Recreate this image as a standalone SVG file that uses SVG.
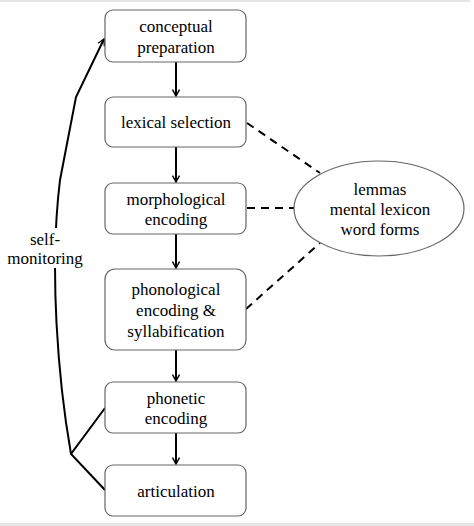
<svg xmlns="http://www.w3.org/2000/svg" width="474" height="526" viewBox="0 0 474 526">
<defs>
<style>
.box{fill:#fff;stroke:#666;stroke-width:1.2}
.t{font-family:'Liberation Serif',serif;font-size:17px;fill:#000;text-anchor:middle}
.arr{stroke:#000;stroke-width:2;fill:none;marker-end:url(#ah)}
.dash{stroke:#000;stroke-width:2;fill:none;stroke-dasharray:8,6}
.sm{stroke:#000;stroke-width:2;fill:none}
</style>
<marker id="ah" viewBox="0 0 12 12" refX="11" refY="6" markerWidth="7" markerHeight="7" markerUnits="userSpaceOnUse" orient="auto" overflow="visible">
<path d="M0,0 L11,6 L0,12" fill="none" stroke="#000" stroke-width="2.4"/>
</marker>
</defs>
<rect x="0" y="0" width="474" height="526" fill="#fff"/>
<rect x="0" y="0" width="470" height="2" fill="#e6e6e6"/>
<rect x="0" y="523" width="474" height="3" fill="#e6e6e6"/>
<g id="connectors">
<path class="arr" d="M176,62 V96"/>
<path class="arr" d="M176,147 V182"/>
<path class="arr" d="M176,234 V268"/>
<path class="arr" d="M176,350 V381"/>
<path class="arr" d="M176,433 V464"/>
<path class="dash" d="M247,123 L320,173"/>
<path class="dash" d="M247,208 L294,208"/>
<path class="dash" d="M246,309 L320,243"/>
<path class="sm" d="M105,408 L71,454 L105,490"/>
<path class="sm" d="M71,454 C58,380 49,270 60,180 L76,97 L104,39" marker-end="url(#ah)"/>
</g>
<g id="self-monitoring">
<rect x="6" y="228" width="78" height="40" fill="#fff"/>
<text class="t" x="45" y="245" font-family="Liberation Serif, serif">self-</text>
<text class="t" x="45" y="264" font-family="Liberation Serif, serif">monitoring</text>
</g>
<g id="conceptual">
<rect class="box" x="105" y="10" width="141" height="52" rx="8"/>
<text class="t" x="176" y="32">conceptual</text>
<text class="t" x="176" y="53">preparation</text>
</g>
<g id="lexical">
<rect class="box" x="105" y="97" width="141" height="50" rx="8"/>
<text class="t" x="176" y="128">lexical selection</text>
</g>
<g id="morphological">
<rect class="box" x="105" y="183" width="141" height="51" rx="8"/>
<text class="t" x="176" y="205">morphological</text>
<text class="t" x="176" y="225">encoding</text>
</g>
<g id="phonological">
<rect class="box" x="105" y="269" width="141" height="81" rx="10"/>
<text class="t" x="176" y="295">phonological</text>
<text class="t" x="176" y="316">encoding &amp;</text>
<text class="t" x="176" y="337">syllabification</text>
</g>
<g id="phonetic">
<rect class="box" x="105" y="382" width="141" height="51" rx="8"/>
<text class="t" x="176" y="404">phonetic</text>
<text class="t" x="176" y="424">encoding</text>
</g>
<g id="articulation">
<rect class="box" x="105" y="465" width="141" height="51" rx="8"/>
<text class="t" x="176" y="497">articulation</text>
</g>
<g id="lexicon">
<ellipse class="box" cx="379" cy="208.5" rx="85" ry="47.5"/>
<text class="t" x="380" y="195">lemmas</text>
<text class="t" x="380" y="215">mental lexicon</text>
<text class="t" x="380" y="235">word forms</text>
</g>
</svg>
